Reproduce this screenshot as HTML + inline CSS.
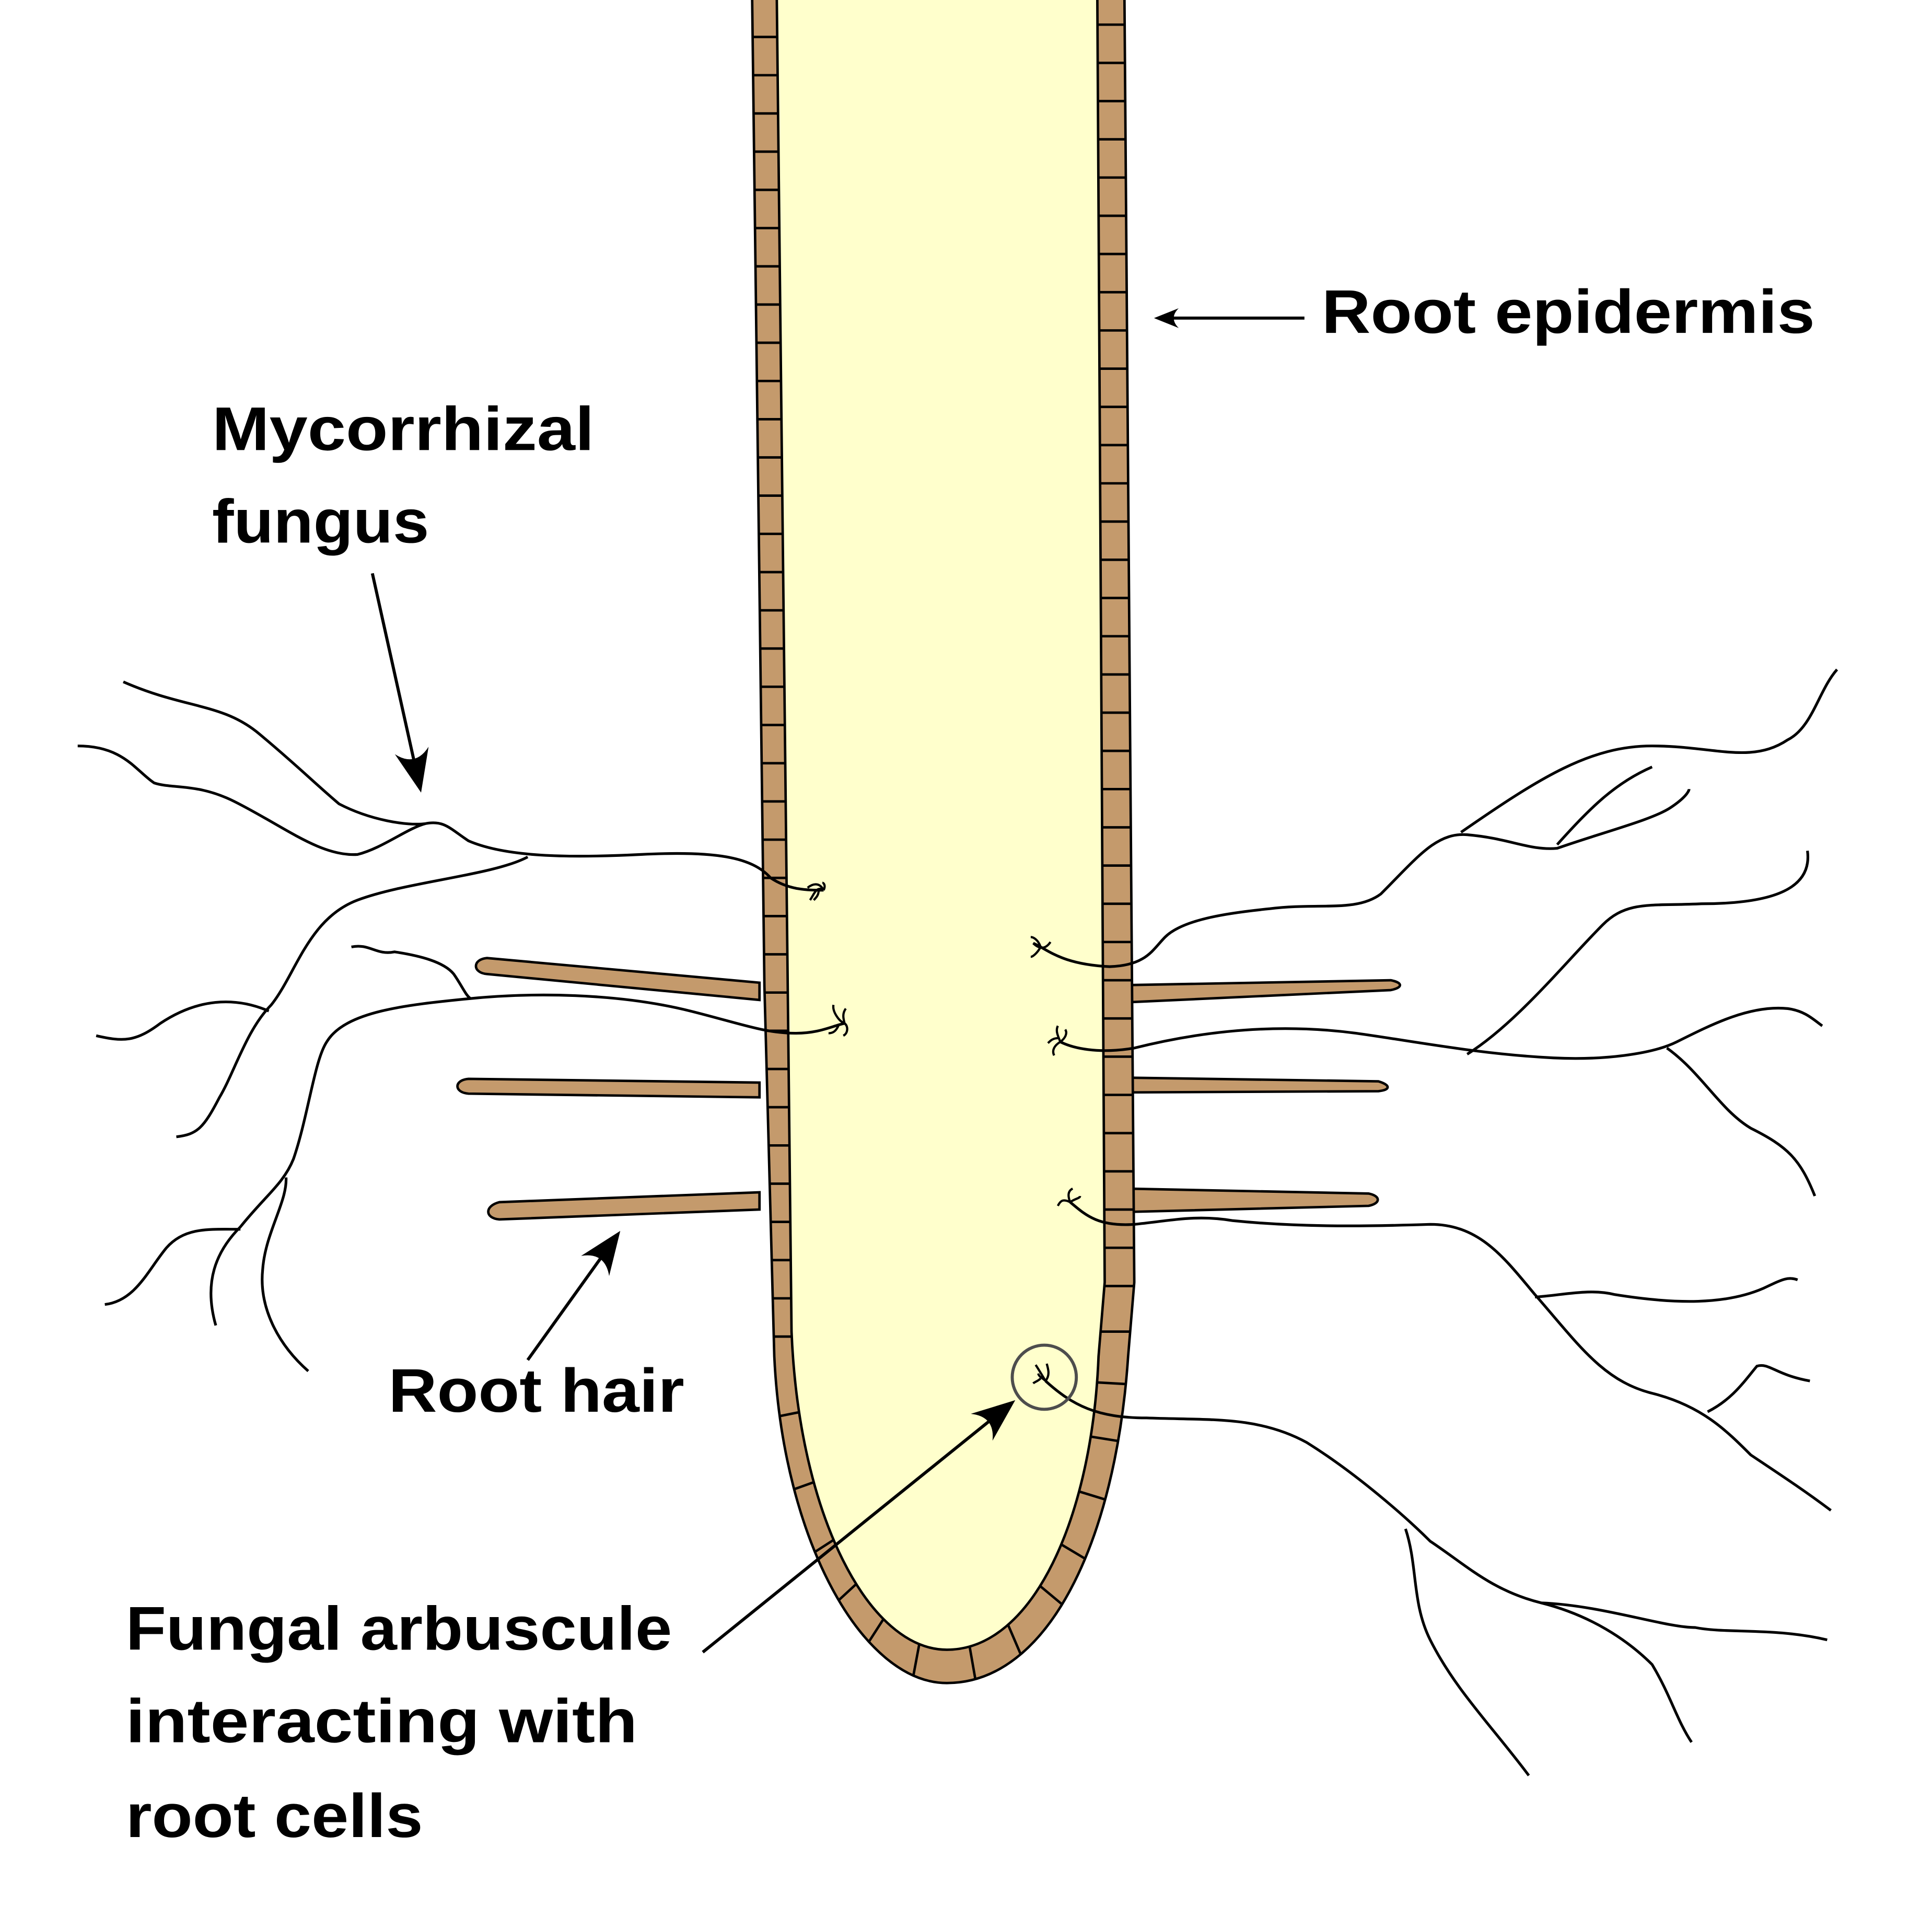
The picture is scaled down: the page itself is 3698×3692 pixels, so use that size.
<!DOCTYPE html>
<html><head><meta charset="utf-8"><style>
html,body{margin:0;padding:0;background:#fff}
svg{display:block}
text{font-family:"Liberation Sans",sans-serif;font-weight:bold;font-size:50px;fill:#000}
</style></head><body>
<svg id="s" xmlns="http://www.w3.org/2000/svg" width="3698" height="3692" viewBox="0 0 1567 1564.5">
<defs><marker id="ah" viewBox="0 0 20 20" refX="16" refY="10" markerWidth="20" markerHeight="20" orient="auto" markerUnits="userSpaceOnUse"><path d="M0,2 Q8,10 0,18 L20,10 Z" fill="#000"/></marker>
<marker id="ah2" viewBox="0 0 20 20" refX="16" refY="10" markerWidth="14" markerHeight="14" orient="auto"><path d="M0,2 Q8,10 0,18 L20,10 Z" fill="#000"/></marker>
<clipPath id="wc"><path d="M610,-5 L620,800 L628,1100 C635,1250 700,1365 768,1365 C850,1365 905,1250 915,1100 L920,1040 L912,-5 Z"/></clipPath></defs>

<g fill="#C49A6C" stroke="#000" stroke-width="2">
<path d="M616,797 L395,777 C383,778 383,789 395,790 L616,811 Z"/>
<path d="M616,878 L380,875 C368,876 368,886 380,887 L616,890 Z"/>
<path d="M616,967 L405,975 C393,978 393,988 405,989 L616,981 Z"/>
<path d="M912,799 L1128,795 C1138,797 1138,801 1128,803 L912,813 Z"/>
<path d="M912,874 L1118,877 C1128,880 1128,884 1118,885 L912,886 Z"/>
<path d="M912,964 L1110,968 C1120,970 1120,976 1110,978 L912,983 Z"/>
<path d="M610,-5 L620,800 L628,1100 C635,1250 700,1365 768,1365 C850,1365 905,1250 915,1100 L920,1040 L912,-5 Z"/>
</g>
<g id="cells" stroke="#000" stroke-width="2" clip-path="url(#wc)">
<line x1="670" y1="1141" x2="600" y2="1155"/><line x1="680" y1="1195" x2="610" y2="1220"/>
<line x1="690" y1="1240" x2="620" y2="1285"/><line x1="705" y1="1275" x2="640" y2="1335"/>
<line x1="725" y1="1300" x2="680" y2="1370"/><line x1="750" y1="1310" x2="735" y2="1390"/>
<line x1="782" y1="1310" x2="796" y2="1390"/><line x1="810" y1="1300" x2="840" y2="1370"/>
<line x1="830" y1="1275" x2="890" y2="1325"/><line x1="848" y1="1245" x2="915" y2="1285"/>
<line x1="860" y1="1205" x2="935" y2="1228"/><line x1="865" y1="1162" x2="940" y2="1174"/>
<line x1="868" y1="1120" x2="940" y2="1124"/><line x1="868" y1="1080" x2="940" y2="1080"/>
</g>
<path d="M630,-5 L642,1080 C648,1230 705,1338 768,1338 C838,1338 886,1230 891,1100 L896,1040 L890,-5 Z" fill="#FFFFCC" stroke="#000" stroke-width="2"/>

<g fill="none" stroke="#000" stroke-width="2.2">
<path d="M100,553 C150,575 180,570 210,595 C240,620 255,635 275,652 C300,665 330,670 345,668 C360,665 365,672 380,682 C410,695 460,696 520,693 C580,690 610,695 625,712 C640,722 655,722 668,722"/>
<path d="M63,605 C100,605 110,625 125,635 C140,640 160,635 190,650 C230,670 260,695 290,693 C310,688 330,672 345,668"/>
<path d="M428,695 C400,710 330,715 290,730 C250,745 240,790 220,815 C200,835 190,870 178,890 C165,915 160,920 143,922"/>
<path d="M78,840 C100,845 110,845 130,830 C160,810 190,808 218,820"/>
<path d="M285,768 C300,765 305,775 320,772 C340,775 360,780 368,790 C375,800 378,808 382,810"/>
<path d="M175,1075 C165,1040 175,1015 195,995 C215,970 230,960 238,940 C250,905 255,860 265,845 C280,820 330,815 380,810 C430,805 500,805 560,820 C600,830 620,838 645,838 C665,838 675,832 685,830"/>
<path d="M85,1058 C110,1055 120,1030 135,1012 C150,995 170,997 195,997"/>
<path d="M250,1112 C225,1090 210,1060 213,1030 C215,1000 233,975 232,955"/>
<path d="M838,765 C850,770 860,782 900,784 C930,783 935,770 945,760 C960,745 1000,740 1030,737 C1070,732 1100,740 1120,725 C1150,695 1165,675 1190,677 C1225,680 1240,690 1263,688 C1300,675 1340,665 1355,655 C1370,645 1370,640 1370,640"/>
<path d="M1185,675 C1250,630 1290,605 1340,605 C1390,605 1420,620 1450,600 C1470,590 1475,560 1490,543"/>
<path d="M1263,685 C1290,655 1310,635 1340,622"/>
<path d="M860,845 C870,850 890,855 920,850 C980,835 1040,830 1100,838 C1150,845 1200,855 1260,858 C1300,860 1340,855 1360,845 C1390,830 1420,815 1450,818 C1465,820 1472,828 1478,832"/>
<path d="M1190,855 C1230,830 1270,780 1300,750 C1320,730 1340,735 1380,733 C1440,733 1470,720 1466,690"/>
<path d="M1352,850 C1380,870 1395,900 1420,915 C1450,930 1460,940 1472,970"/>
<path d="M868,975 C880,985 890,995 920,993 C950,990 970,985 1000,990 C1050,995 1100,995 1160,993 C1200,993 1220,1020 1245,1050 C1280,1090 1300,1120 1340,1130 C1380,1140 1400,1160 1420,1180 C1450,1200 1465,1210 1485,1225"/>
<path d="M1245,1052 C1270,1050 1290,1045 1310,1050 C1360,1058 1400,1058 1430,1045 C1445,1038 1450,1035 1458,1038"/>
<path d="M1385,1145 C1405,1135 1415,1120 1425,1108 C1435,1105 1440,1115 1468,1120"/>
<path d="M848,1120 C870,1140 890,1150 930,1150 C980,1152 1020,1148 1060,1170 C1100,1195 1140,1230 1160,1250 C1190,1270 1210,1290 1250,1300 C1300,1302 1350,1320 1375,1320 C1400,1325 1440,1320 1482,1330"/>
<path d="M1140,1240 C1150,1270 1145,1300 1160,1330 C1180,1370 1210,1400 1240,1440"/>
<path d="M1250,1300 C1290,1310 1320,1330 1340,1350 C1355,1375 1360,1395 1372,1413"/>
</g>
<g fill="none" stroke="#000" stroke-width="1.8">
<path d="M668,722 C662,718 660,726 657,730 M664,722 C664,726 662,728 660,730 M668,722 C670,718 668,716 667,716 M668,722 C665,716 660,716 655,720"/>
<path d="M685,830 C680,828 675,820 676,815 M685,830 C684,826 683,822 686,818 M685,830 C688,832 688,838 684,840 M680,832 C678,836 676,838 672,838"/>
<path d="M838,765 C843,770 848,770 852,764 M844,768 C842,772 838,776 836,776 M844,768 C842,762 838,760 836,760"/>
<path d="M860,845 C858,840 856,836 858,832 M860,845 C855,848 853,852 855,856 M860,845 C864,842 866,838 864,835 M858,842 C854,842 852,844 850,846"/>
<path d="M868,975 C866,970 866,966 870,964 M868,975 C862,972 860,974 858,978 M868,975 C872,972 876,972 876,970"/>
<path d="M848,1120 C845,1115 842,1110 840,1107 M848,1120 C852,1115 850,1110 849,1106 M844,1118 C842,1120 839,1121 838,1122 M848,1120 C845,1117 843,1117 842,1114"/>
</g>
<circle cx="847" cy="1117" r="26" fill="none" stroke="#4d4d4d" stroke-width="2.5"/>

<g stroke="#000" stroke-width="2.5" fill="none">
<line x1="1058" y1="258" x2="940" y2="258" marker-end="url(#ah)"/>
<line x1="302" y1="465" x2="340" y2="636" marker-end="url(#ah2)"/>
<line x1="428" y1="1103" x2="499" y2="1004" marker-end="url(#ah2)"/>
<line x1="570" y1="1340" x2="818" y2="1140" marker-end="url(#ah2)"/>
</g>

<text x="1072" y="270" textLength="400" lengthAdjust="spacingAndGlyphs">Root epidermis</text>
<text x="172" y="365" textLength="310" lengthAdjust="spacingAndGlyphs">Mycorrhizal</text>
<text x="172" y="440" textLength="176" lengthAdjust="spacingAndGlyphs">fungus</text>
<text x="315" y="1145" textLength="240" lengthAdjust="spacingAndGlyphs">Root hair</text>
<text x="102" y="1338" textLength="443" lengthAdjust="spacingAndGlyphs">Fungal arbuscule</text>
<text x="102" y="1413" textLength="415" lengthAdjust="spacingAndGlyphs">interacting with</text>
<text x="102" y="1490" textLength="241" lengthAdjust="spacingAndGlyphs">root cells</text>
</svg>
<script>
var g=document.getElementById('cells'),ns='http://www.w3.org/2000/svg';
function L(a,b,c,d){var l=document.createElementNS(ns,'line');l.setAttribute('x1',a);l.setAttribute('y1',b);l.setAttribute('x2',c);l.setAttribute('y2',d);g.appendChild(l);}
for(var y=30;y<1100;y+=31){L(600,y,660,y);}
for(var y=20;y<1060;y+=31){L(880,y,930,y);}
</script>
</body></html>
